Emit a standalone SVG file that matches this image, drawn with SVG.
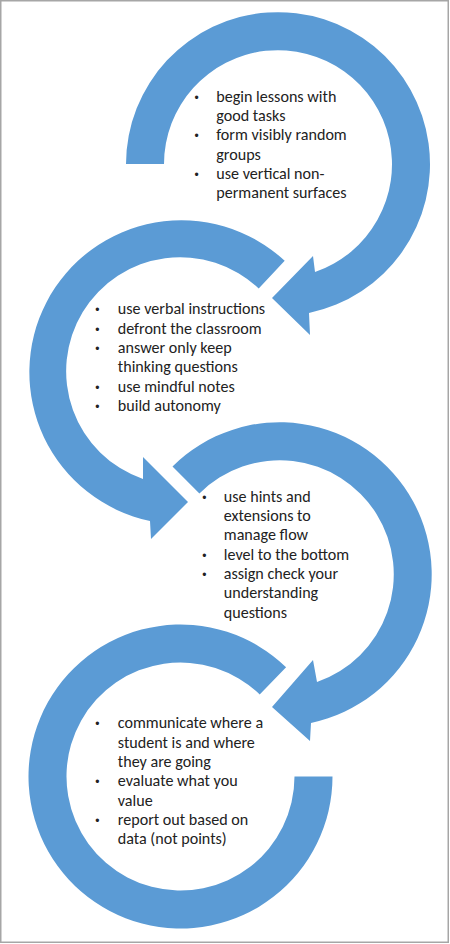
<svg xmlns="http://www.w3.org/2000/svg" width="450" height="944" viewBox="0 0 450 944">
<style>
.arc{fill:#5b9bd5;stroke:none}
.t{font-family:Carlito,Lato,"Liberation Sans",sans-serif;font-size:16.1px;fill:#222222}
.b{font-family:"Liberation Sans",sans-serif;font-size:12px;fill:#222222}
</style>
<rect x="0" y="0" width="450" height="944" fill="#ffffff"/>
<rect x="0.75" y="0.75" width="447.5" height="941.5" fill="none" stroke="#a6a6a6" stroke-width="1.5"/>
<g id="connectors">
<path id="arrow1" class="arc" d="M126,164 A152,152 0 1 1 309,313 L310,335 L272,298 L313,256 L315,272 A114,114 0 1 0 164,164 Z"/>
<path id="arrow2" class="arc" d="M284.7,260.8 A152,152 0 1 0 150,521 L151,539 L188,502 L143,457 L143,479 A114,114 0 1 1 258.7,288.6 Z"/>
<path id="arrow3" class="arc" d="M172.5,466.5 A152,152 0 1 1 311,723 L310,741 L272,707 L313,660 L317,682 A114,114 0 1 0 199.4,493.4 Z"/>
<path id="arrow4" class="arc" d="M286.1,667.2 A152,152 0 1 0 332.5,776.5 L294.5,776.5 A114,114 0 1 1 259.7,694.5 Z"/>
</g>
<g id="step1">
<text class="b" x="194.5" y="101.7">•</text>
<text class="t" x="216.3" y="101.7">begin lessons with</text>
<text class="t" x="216.3" y="121">good tasks</text>
<text class="b" x="194.5" y="140.3">•</text>
<text class="t" x="216.3" y="140.3">form visibly random</text>
<text class="t" x="216.3" y="159.6">groups</text>
<text class="b" x="194.5" y="178.9">•</text>
<text class="t" x="216.3" y="178.9">use vertical non-</text>
<text class="t" x="216.3" y="198.2">permanent surfaces</text>
</g>
<g id="step2">
<text class="b" x="95.3" y="314.3">•</text>
<text class="t" x="117.8" y="314.3">use verbal instructions</text>
<text class="b" x="95.3" y="333.6">•</text>
<text class="t" x="117.8" y="333.6">defront the classroom</text>
<text class="b" x="95.3" y="352.9">•</text>
<text class="t" x="117.8" y="352.9">answer only keep</text>
<text class="t" x="117.8" y="372.2">thinking questions</text>
<text class="b" x="95.3" y="391.5">•</text>
<text class="t" x="117.8" y="391.5">use mindful notes</text>
<text class="b" x="95.3" y="410.8">•</text>
<text class="t" x="117.8" y="410.8">build autonomy</text>
</g>
<g id="step3">
<text class="b" x="202.3" y="501.7">•</text>
<text class="t" x="223.8" y="501.7">use hints and</text>
<text class="t" x="223.8" y="521">extensions to</text>
<text class="t" x="223.8" y="540.3">manage flow</text>
<text class="b" x="202.3" y="559.6">•</text>
<text class="t" x="223.8" y="559.6">level to the bottom</text>
<text class="b" x="202.3" y="578.9">•</text>
<text class="t" x="223.8" y="578.9">assign check your</text>
<text class="t" x="223.8" y="598.2">understanding</text>
<text class="t" x="223.8" y="617.5">questions</text>
</g>
<g id="step4">
<text class="b" x="95.3" y="728.3">•</text>
<text class="t" x="117.8" y="728.3">communicate where a</text>
<text class="t" x="117.8" y="747.6">student is and where</text>
<text class="t" x="117.8" y="766.9">they are going</text>
<text class="b" x="95.3" y="786.2">•</text>
<text class="t" x="117.8" y="786.2">evaluate what you</text>
<text class="t" x="117.8" y="805.5">value</text>
<text class="b" x="95.3" y="824.8">•</text>
<text class="t" x="117.8" y="824.8">report out based on</text>
<text class="t" x="117.8" y="844.1">data (not points)</text>
</g>
</svg>
